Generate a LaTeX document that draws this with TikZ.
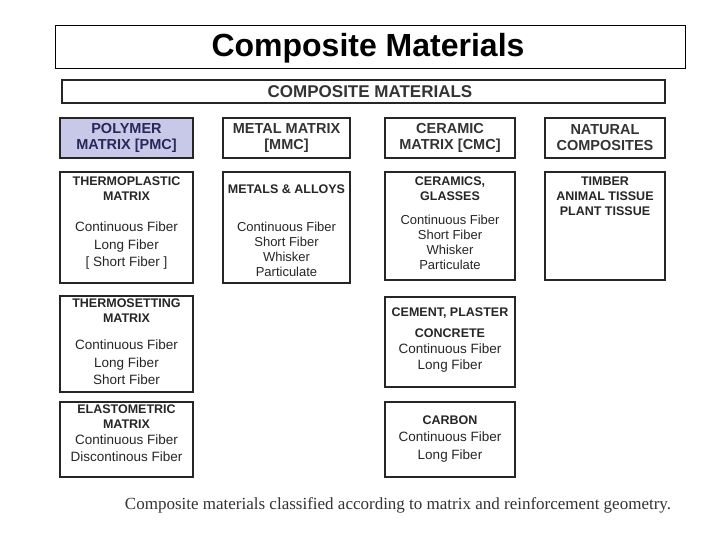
\documentclass[tikz,border=0pt]{standalone}
\usepackage{fontspec}
\setmainfont{Liberation Sans}
\newfontfamily\capfont{Liberation Serif}
\begin{document}
\begin{tikzpicture}[x=1pt,y=-1pt,
  box/.style={draw=black!85,line width=1.6pt,fill=white},
  hd/.style={font=\fontsize{14.5}{16}\selectfont\bfseries,align=center,text=black!80,inner sep=0pt},
  sh/.style={font=\fontsize{12.5}{15}\selectfont\bfseries,align=center,text=black!85,inner sep=0pt},
  bd/.style={font=\fontsize{13.5}{17.5}\selectfont,align=center,text=black!85,inner sep=0pt}]
\useasboundingbox (0,0) rectangle (720,540);
\fill[white] (0,0) rectangle (720,540);
\draw[black,line width=0.6pt] (55,25) rectangle (685,68);
\node (title) at (368,48) {\fontsize{32}{34}\selectfont\bfseries Composite Materials};
\draw[box] (62,80) rectangle (665,103);
\node[font=\fontsize{17}{18}\selectfont\bfseries,text=black!80] (cm) at (370,91.5) {COMPOSITE MATERIALS};
% row 1
\draw[box,fill={rgb,255:red,200;green,200;blue,232},line width=2.4pt] (60,118) rectangle (193,158);
\node[hd,text={rgb,255:red,40;green,40;blue,90}] (pmc) at (126.5,138) {POLYMER\\MATRIX [PMC]};
\draw[box] (223,118) rectangle (350,158);
\node[hd] (mmc) at (286.5,138) {METAL MATRIX\\{[MMC]}};
\draw[box] (385,118) rectangle (515,158);
\node[hd] (cmc) at (450,138) {CERAMIC\\MATRIX [CMC]};
\draw[box] (545,118) rectangle (665,158);
\node[hd] (nat) at (605,138) {NATURAL\\COMPOSITES};
% row 2
\draw[box] (60,172) rectangle (193,283);
\node[sh,anchor=north] (tp) at (126.5,177) {THERMOPLASTIC\\MATRIX};
\node[bd,anchor=north] (tpb) at (126.5,222) {Continuous Fiber\\Long Fiber\\{[} Short Fiber {]}};
\draw[box] (223,172) rectangle (350,283);
\node[sh] (ma) at (286.5,189) {METALS \& ALLOYS};
\node[bd,anchor=north,font=\fontsize{13}{15}\selectfont] (mab) at (286.5,222) {Continuous Fiber\\Short Fiber\\Whisker\\Particulate};
\draw[box] (385,172) rectangle (515,280);
\node[sh,anchor=north] (cg) at (450,177) {CERAMICS,\\GLASSES};
\node[bd,anchor=north,font=\fontsize{13}{15}\selectfont] (cgb) at (450,215) {Continuous Fiber\\Short Fiber\\Whisker\\Particulate};
\draw[box] (545,172) rectangle (665,280);
\node[sh,anchor=north] (tim) at (605,177) {TIMBER\\ANIMAL TISSUE\\PLANT TISSUE};
% row 3
\draw[box] (60,296) rectangle (193,392);
\node[sh,anchor=north] (ts) at (126.5,299) {THERMOSETTING\\MATRIX};
\node[bd,anchor=north] (tsb) at (126.5,340) {Continuous Fiber\\Long Fiber\\Short Fiber};
\draw[box] (385,297) rectangle (515,387);
\node[sh] (cp) at (450,313) {CEMENT, PLASTER};
\node[sh] (conc) at (450,333) {CONCRETE};
\node[bd,anchor=north,font=\fontsize{13.5}{16}\selectfont] (cpb) at (450,344) {Continuous Fiber\\Long Fiber};
% row 4
\draw[box] (60,402) rectangle (193,477);
\node[sh,anchor=north] (el) at (126.5,405) {ELASTOMETRIC\\MATRIX};
\node[bd,anchor=north,font=\fontsize{13.5}{17}\selectfont] (elb) at (126.5,435) {Continuous Fiber\\Discontinous Fiber};
\draw[box] (385,402) rectangle (515,477);
\node[sh] (carb) at (450,420) {CARBON};
\node[bd,anchor=north] (carbb) at (450,432) {Continuous Fiber\\Long Fiber};
% caption
\node[font=\capfont\fontsize{17}{19}\selectfont,text=black!80] (cap) at (398,505) {Composite materials classified according to matrix and reinforcement geometry.};
\end{tikzpicture}
\end{document}
